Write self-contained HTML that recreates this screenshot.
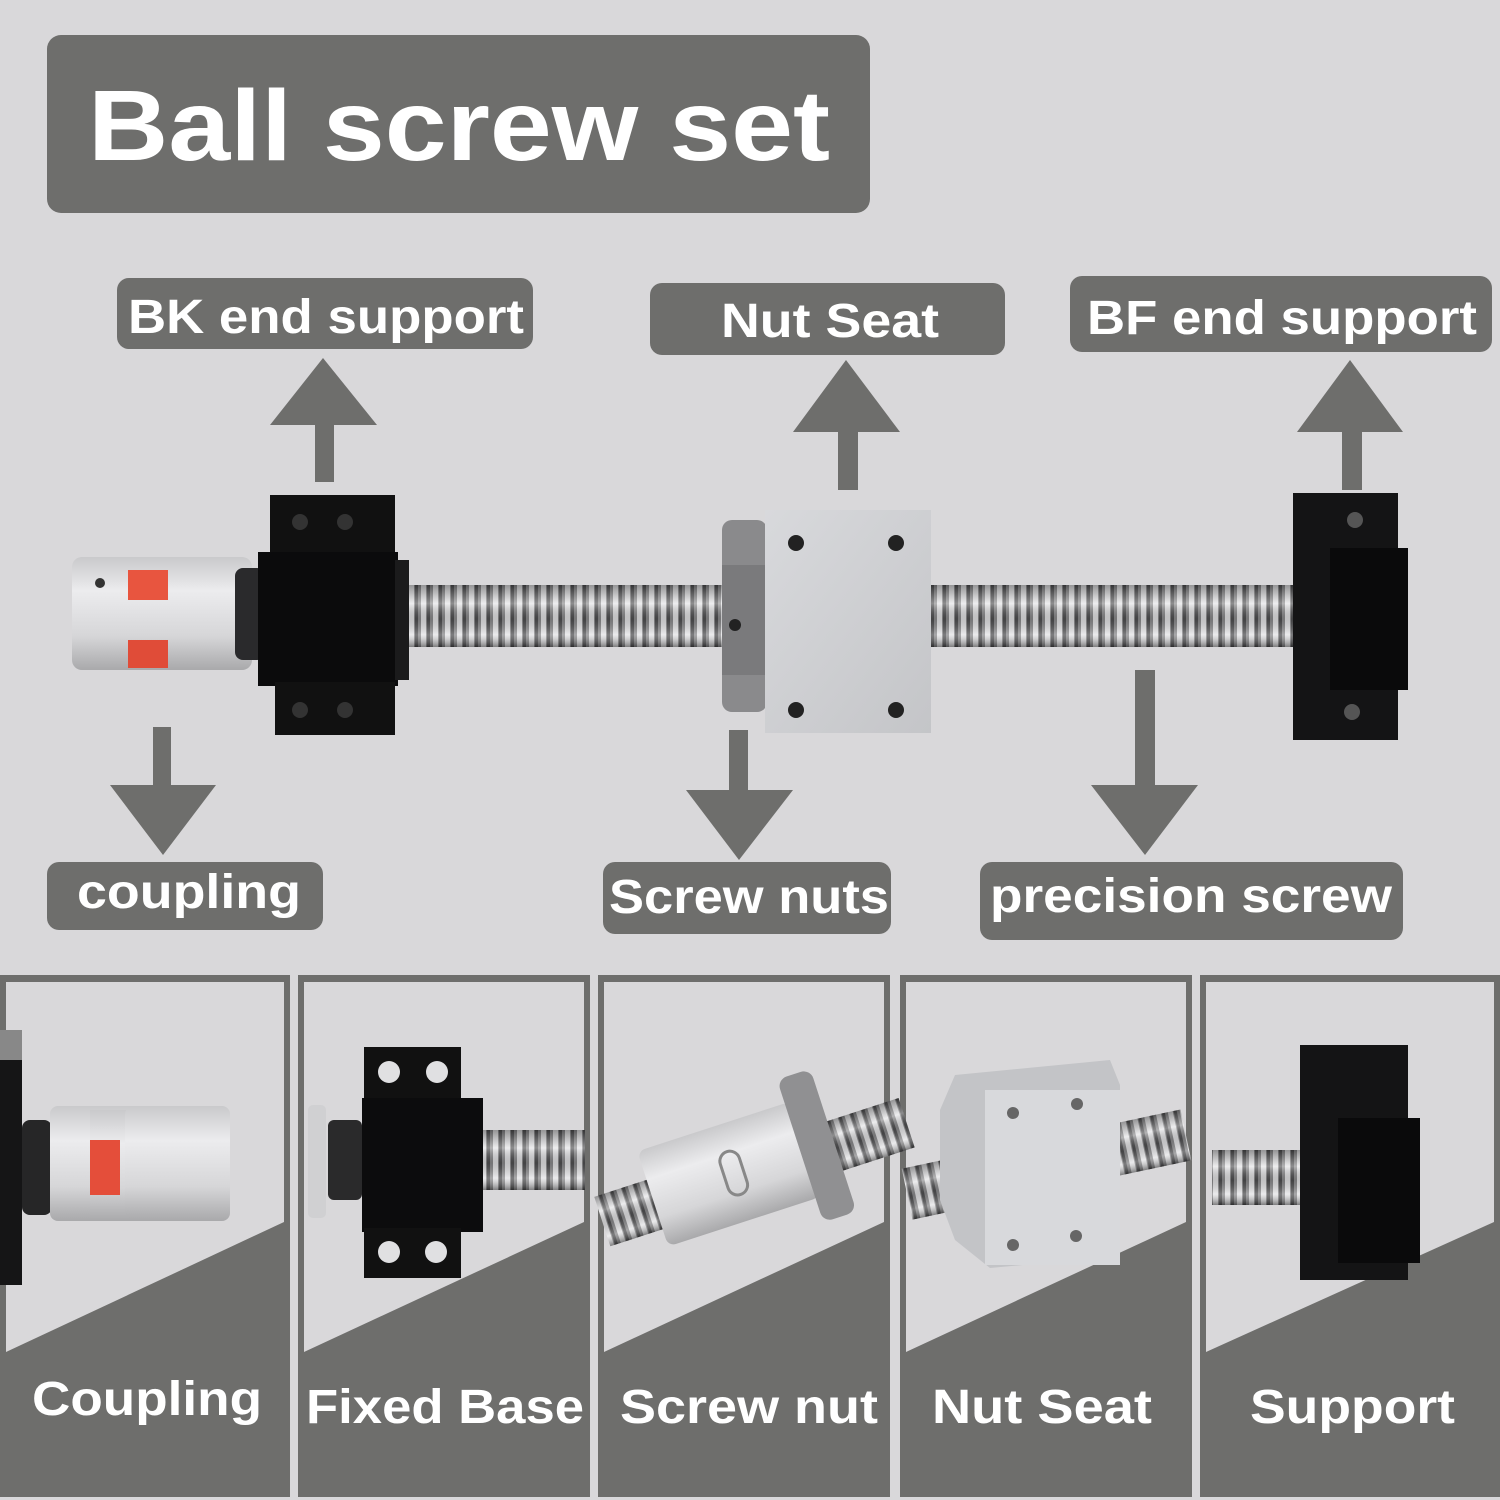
<!DOCTYPE html>
<html><head><meta charset="utf-8"><style>
html,body{margin:0;padding:0;background:#d9d8da}
svg{display:block}
text{font-family:"Liberation Sans",sans-serif;font-weight:bold;fill:#fff}
</style></head><body>
<svg width="1500" height="1500" viewBox="0 0 1500 1500" xmlns="http://www.w3.org/2000/svg">
<defs>
<pattern id="thr" width="12" height="60" patternUnits="userSpaceOnUse">
<rect width="12" height="60" fill="#8a8a8c"/>
<rect x="1" width="5" height="60" fill="#e4e4e6"/>
<rect x="7" width="3" height="60" fill="#505052"/>
</pattern>
<linearGradient id="cyl" x1="0" y1="0" x2="0" y2="1">
<stop offset="0" stop-color="#000" stop-opacity="0.35"/>
<stop offset="0.3" stop-color="#fff" stop-opacity="0.35"/>
<stop offset="0.55" stop-color="#000" stop-opacity="0.15"/>
<stop offset="0.8" stop-color="#fff" stop-opacity="0.25"/>
<stop offset="1" stop-color="#000" stop-opacity="0.45"/>
</linearGradient>
<linearGradient id="alu" x1="0" y1="0" x2="0" y2="1">
<stop offset="0" stop-color="#c9c9cb"/>
<stop offset="0.3" stop-color="#ececee"/>
<stop offset="0.7" stop-color="#d6d6d8"/>
<stop offset="1" stop-color="#a9a9ab"/>
</linearGradient>
<linearGradient id="silver" x1="0" y1="0" x2="1" y2="1">
<stop offset="0" stop-color="#d8d9dc"/>
<stop offset="1" stop-color="#c4c5c8"/>
</linearGradient>
</defs>

<rect x="47" y="35" width="823" height="178" rx="14" fill="#6e6e6c"/>
<text x="88" y="160" font-size="100" textLength="742" lengthAdjust="spacingAndGlyphs">Ball screw set</text>

<rect x="117" y="278" width="416" height="71" rx="12" fill="#6e6e6c"/>
<text x="128" y="333" font-size="48" textLength="396" lengthAdjust="spacingAndGlyphs">BK end support</text>
<rect x="650" y="283" width="355" height="72" rx="12" fill="#6e6e6c"/>
<text x="721" y="337" font-size="48" textLength="218" lengthAdjust="spacingAndGlyphs">Nut Seat</text>
<rect x="1070" y="276" width="422" height="76" rx="12" fill="#6e6e6c"/>
<text x="1087" y="334" font-size="48" textLength="390" lengthAdjust="spacingAndGlyphs">BF end support</text>

<g fill="#6e6e6c">
<polygon points="323,358 377,425 270,425"/><rect x="315" y="424" width="19" height="58"/>
<polygon points="846,360 900,432 793,432"/><rect x="838" y="431" width="20" height="59"/>
<polygon points="1350,360 1403,432 1297,432"/><rect x="1342" y="431" width="20" height="59"/>
<rect x="153" y="727" width="18" height="60"/><polygon points="110,785 216,785 163,855"/>
<rect x="729" y="730" width="19" height="62"/><polygon points="686,790 793,790 739,860"/>
<rect x="1135" y="670" width="20" height="117"/><polygon points="1091,785 1198,785 1145,855"/>
</g>

<rect x="47" y="862" width="276" height="68" rx="12" fill="#6e6e6c"/>
<text x="77" y="908" font-size="48" textLength="224" lengthAdjust="spacingAndGlyphs">coupling</text>
<rect x="603" y="862" width="288" height="72" rx="12" fill="#6e6e6c"/>
<text x="609" y="913" font-size="48" textLength="280" lengthAdjust="spacingAndGlyphs">Screw nuts</text>
<rect x="980" y="862" width="423" height="78" rx="12" fill="#6e6e6c"/>
<text x="990" y="912" font-size="48" textLength="402" lengthAdjust="spacingAndGlyphs">precision screw</text>

<rect x="395" y="585" width="920" height="62" fill="url(#thr)"/>
<rect x="395" y="585" width="920" height="62" fill="url(#cyl)"/>
<rect x="72" y="557" width="180" height="113" rx="10" fill="url(#alu)"/>
<rect x="128" y="570" width="40" height="30" fill="#e8553f"/>
<rect x="128" y="640" width="40" height="28" fill="#e04c38"/>
<circle cx="100" cy="583" r="5" fill="#333"/>
<rect x="235" y="568" width="30" height="92" rx="8" fill="#2a2a2c"/>
<rect x="270" y="495" width="125" height="62" fill="#111"/>
<circle cx="300" cy="522" r="8" fill="#333"/><circle cx="345" cy="522" r="8" fill="#333"/>
<rect x="258" y="552" width="140" height="134" fill="#0b0b0c"/>
<rect x="395" y="560" width="14" height="120" fill="#1b1b1c"/>
<rect x="275" y="682" width="120" height="53" fill="#111"/>
<circle cx="300" cy="710" r="8" fill="#333"/><circle cx="345" cy="710" r="8" fill="#333"/>
<rect x="722" y="520" width="45" height="192" rx="10" fill="#8a8a8c"/>
<rect x="722" y="565" width="45" height="110" fill="#7a7a7c"/>
<circle cx="735" cy="625" r="6" fill="#222"/>
<rect x="765" y="510" width="166" height="223" fill="url(#silver)"/>
<g fill="#222"><circle cx="796" cy="543" r="8"/><circle cx="896" cy="543" r="8"/><circle cx="796" cy="710" r="8"/><circle cx="896" cy="710" r="8"/></g>
<rect x="1293" y="493" width="105" height="247" fill="#141415"/>
<rect x="1330" y="548" width="78" height="142" fill="#0a0a0b"/>
<circle cx="1355" cy="520" r="8" fill="#555"/><circle cx="1352" cy="712" r="8" fill="#555"/>

<g>
<rect x="0" y="975" width="290" height="522" fill="#6e6e6c"/>
<rect x="298" y="975" width="292" height="522" fill="#6e6e6c"/>
<rect x="598" y="975" width="292" height="522" fill="#6e6e6c"/>
<rect x="900" y="975" width="292" height="522" fill="#6e6e6c"/>
<rect x="1200" y="975" width="300" height="522" fill="#6e6e6c"/>
</g>
<g fill="#d9d8da">
<polygon points="6,982 284,982 284,1222 6,1352"/>
<polygon points="304,982 584,982 584,1222 304,1352"/>
<polygon points="604,982 884,982 884,1222 604,1352"/>
<polygon points="906,982 1186,982 1186,1222 906,1352"/>
<polygon points="1206,982 1494,982 1494,1222 1206,1352"/>
</g>
<rect x="0" y="1030" width="22" height="255" fill="#151516"/>
<rect x="0" y="1030" width="22" height="30" fill="#888"/>
<rect x="22" y="1120" width="30" height="95" rx="8" fill="#262627"/>
<rect x="50" y="1106" width="112" height="115" rx="8" fill="url(#alu)"/>
<rect x="90" y="1110" width="72" height="111" fill="url(#alu)"/>
<rect x="90" y="1140" width="30" height="55" fill="#e44e3a"/>
<rect x="125" y="1106" width="105" height="115" rx="8" fill="url(#alu)"/>
<rect x="483" y="1130" width="102" height="60" fill="url(#thr)"/><rect x="483" y="1130" width="102" height="60" fill="url(#cyl)"/>
<rect x="308" y="1105" width="18" height="113" rx="5" fill="#d0d0d2"/>
<rect x="328" y="1120" width="34" height="80" rx="6" fill="#2a2a2b"/>
<rect x="364" y="1047" width="97" height="55" fill="#111"/>
<rect x="362" y="1098" width="121" height="134" fill="#0c0c0d"/>
<rect x="364" y="1228" width="97" height="50" fill="#111"/>
<g fill="#e0e0e2"><circle cx="389" cy="1072" r="11"/><circle cx="437" cy="1072" r="11"/><circle cx="389" cy="1252" r="11"/><circle cx="436" cy="1252" r="11"/></g>
<g transform="rotate(-18 740 1160)">
<rect x="590" y="1150" width="320" height="52" fill="url(#thr)"/><rect x="590" y="1150" width="320" height="52" fill="url(#cyl)"/>
<rect x="645" y="1120" width="160" height="100" rx="8" fill="url(#alu)"/>
<rect x="800" y="1095" width="35" height="150" rx="10" fill="#909092"/>
<rect x="720" y="1148" width="20" height="45" rx="10" fill="none" stroke="#888" stroke-width="3"/>
</g>
<g transform="rotate(-12 1040 1170)">
<rect x="905" y="1140" width="285" height="52" fill="url(#thr)"/><rect x="905" y="1140" width="285" height="52" fill="url(#cyl)"/>
</g>
<polygon points="955,1075 1110,1060 1120,1085 1120,1256 990,1268 955,1240 940,1200 940,1110" fill="#c3c4c7"/>
<rect x="985" y="1090" width="135" height="175" fill="#d8d9dc"/>
<g fill="#666"><circle cx="1013" cy="1113" r="6"/><circle cx="1077" cy="1104" r="6"/><circle cx="1013" cy="1245" r="6"/><circle cx="1076" cy="1236" r="6"/></g>
<rect x="1212" y="1150" width="150" height="55" fill="url(#thr)"/><rect x="1212" y="1150" width="150" height="55" fill="url(#cyl)"/>
<rect x="1300" y="1045" width="108" height="235" fill="#141415"/>
<rect x="1338" y="1118" width="82" height="145" fill="#0a0a0b"/>

<text x="32" y="1415" font-size="48" textLength="230" lengthAdjust="spacingAndGlyphs">Coupling</text>
<text x="306" y="1423" font-size="48" textLength="278" lengthAdjust="spacingAndGlyphs">Fixed Base</text>
<text x="620" y="1423" font-size="48" textLength="258" lengthAdjust="spacingAndGlyphs">Screw nut</text>
<text x="932" y="1423" font-size="48" textLength="220" lengthAdjust="spacingAndGlyphs">Nut Seat</text>
<text x="1250" y="1423" font-size="48" textLength="205" lengthAdjust="spacingAndGlyphs">Support</text>
</svg>
</body></html>
